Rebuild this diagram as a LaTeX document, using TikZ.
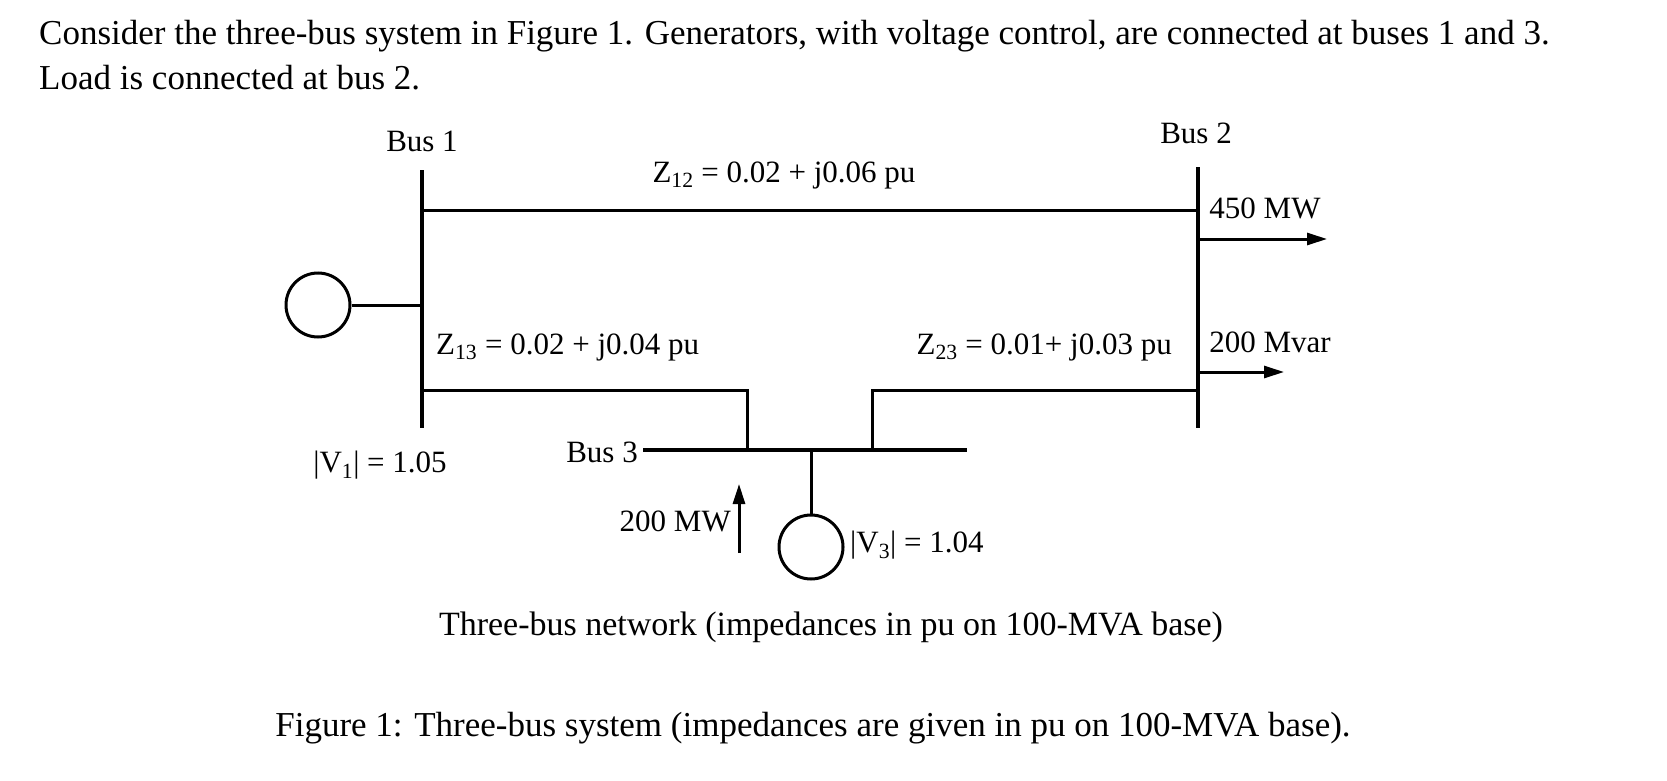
\documentclass[tikz,border=0pt]{standalone}
\usepackage{fontspec}
\setmainfont{Liberation Serif}
\usetikzlibrary{arrows.meta}
\begin{document}
\begin{tikzpicture}[x=1pt,y=-1pt,
  bus/.style={line width=4.5pt},
  ln/.style={line width=3pt},
  gen/.style={draw,circle,line width=3pt,minimum size=64pt,inner sep=0pt},
  flow/.style={line width=3pt,-{Triangle[length=20pt,width=12pt]}},
  lbl/.style={font=\fontsize{31}{36}\selectfont,inner sep=0pt},
  captxt/.style={font=\fontsize{34}{40}\selectfont,inner sep=0pt},
  txt/.style={font=\fontsize{35}{40}\selectfont,inner sep=0pt}]
\useasboundingbox (0,0) rectangle (1667,781);
\node[txt,anchor=base west] (t1) at (39,45) {Consider the three-bus system in Figure 1. Generators, with voltage control, are connected at buses 1 and 3.};
\node[txt,anchor=base west] (t2) at (39,90) {Load is connected at bus 2.};
% buses
\coordinate (b1t) at (422,170); \coordinate (b1b) at (422,428);
\coordinate (b2t) at (1198,167); \coordinate (b2b) at (1198,428);
\coordinate (b3l) at (643,450); \coordinate (b3r) at (967,450);
\draw[bus] (b1t) -- (b1b);
\draw[bus] (b2t) -- (b2b);
\draw[bus] (b3l) -- (b3r);
\node[lbl] (bus1) at (422,141) {Bus 1};
\node[lbl] (bus2) at (1196,133) {Bus 2};
\node[lbl,anchor=east] (bus3) at (638,452) {Bus 3};
% lines
\coordinate (z12a) at (422,210); \coordinate (z12b) at (1198,210);
\draw[ln] (z12a) -- (z12b);
\node[lbl] (z12) at (784,175) {Z\textsubscript{12} = 0.02 + j0.06 pu};
\coordinate (z13a) at (422,390); \coordinate (z13c) at (747,390); \coordinate (z13b) at (747,450);
\draw[ln] (z13a) -- (z13c) -- (z13b);
\node[lbl,anchor=west] (z13) at (436,347) {Z\textsubscript{13} = 0.02 + j0.04 pu};
\coordinate (z23a) at (1198,390); \coordinate (z23c) at (872,390); \coordinate (z23b) at (872,450);
\draw[ln] (z23a) -- (z23c) -- (z23b);
\node[lbl,anchor=east] (z23) at (1172,347) {Z\textsubscript{23} = 0.01+ j0.03 pu};
% generators
\node[gen] (g1) at (318,305) {};
\coordinate (g1c) at (422,305);
\draw[ln] (g1) -- (g1c);
\node[lbl] (v1) at (380,465) {|V\textsubscript{1}| = 1.05};
\node[gen] (g3) at (811,547) {};
\coordinate (g3c) at (811,450);
\draw[ln] (g3c) -- (g3);
\node[lbl,anchor=west] (v3) at (850,545) {|V\textsubscript{3}| = 1.04};
% flows
\coordinate (f1a) at (1198,239); \coordinate (f1b) at (1327,239);
\draw[flow] (f1a) -- (f1b);
\node[lbl] (p2) at (1265,208) {450 MW};
\coordinate (f2a) at (1198,372); \coordinate (f2b) at (1284,372);
\draw[flow] (f2a) -- (f2b);
\node[lbl] (q2) at (1270,342) {200 Mvar};
\coordinate (f3a) at (739,553); \coordinate (f3b) at (739,484);
\draw[flow] (f3a) -- (f3b);
\node[lbl,anchor=east] (p3) at (731,521) {200 MW};
% captions
\node[captxt] (cap) at (831,627) {Three-bus network (impedances in pu on 100-MVA base)};
\node[txt] (fig) at (813,728) {Figure 1: Three-bus system (impedances are given in pu on 100-MVA base).};
\end{tikzpicture}
\end{document}
